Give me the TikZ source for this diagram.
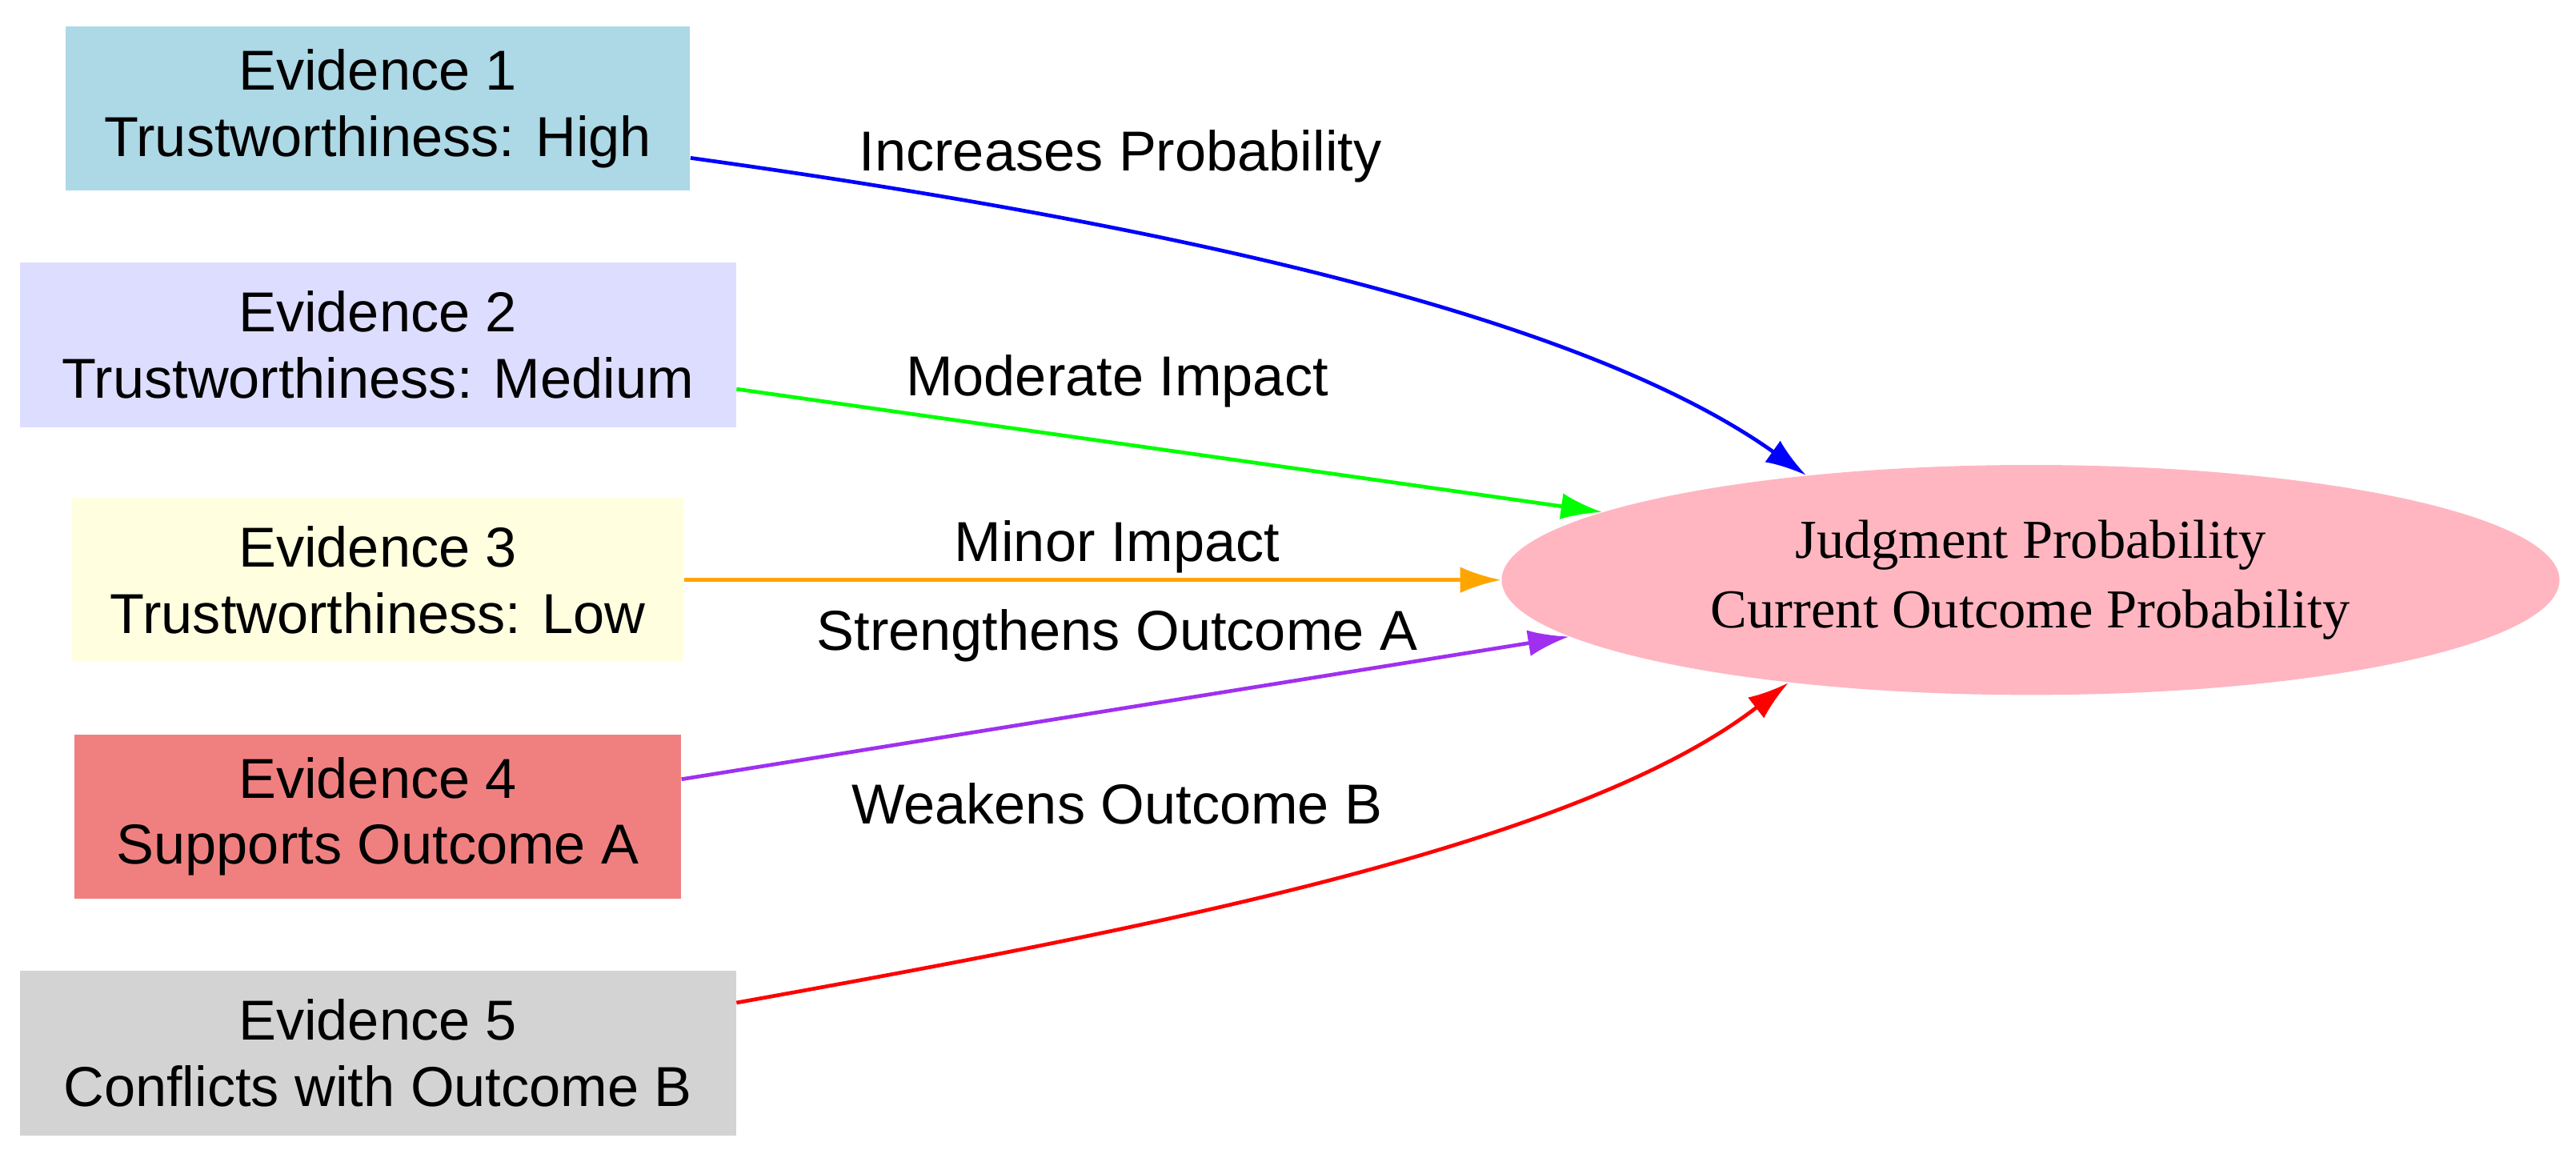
\documentclass[tikz,border=0pt]{standalone}
\usepackage{fontspec}
\setmainfont{Liberation Sans}
\newfontfamily\serifjf{Liberation Serif}
\usetikzlibrary{shapes.geometric,arrows.meta}
\definecolor{cE1}{HTML}{ADD8E6}
\definecolor{cE2}{HTML}{DDDDFF}
\definecolor{cE3}{HTML}{FFFFE0}
\definecolor{cE4}{HTML}{F08080}
\definecolor{cE5}{HTML}{D3D3D3}
\definecolor{cJ}{HTML}{FFB6C1}
\definecolor{cO}{HTML}{FFA500}
\definecolor{cP}{HTML}{A030F0}
\tikzset{
 ev/.style={rectangle,inner sep=0pt,align=center,font=\fontsize{19.5}{23}\selectfont,minimum height=2cm},
 conn/.style={line width=1.3pt,-{Latex[length=0.5cm,width=0.32cm]}},
 lab/.style={font=\fontsize{19.5}{23}\selectfont}
}
\begin{document}
\begin{tikzpicture}[x=0.02cm,y=-0.02cm]
\useasboundingbox (0,0) rectangle (1568,704.4);
\node[ev,fill=cE1,minimum width=7.6cm] (e1) at (230,66) {Evidence 1\\Trustworthiness: High};
\node[ev,fill=cE2,minimum width=8.72cm] (e2) at (230,210) {Evidence 2\\Trustworthiness: Medium};
\node[ev,fill=cE3,minimum width=7.44cm] (e3) at (230,353) {Evidence 3\\Trustworthiness: Low};
\node[ev,fill=cE4,minimum width=7.38cm] (e4) at (230,497) {Evidence 4\\Supports Outcome A};
\node[ev,fill=cE5,minimum width=8.72cm] (e5) at (230,641) {Evidence 5\\Conflicts with Outcome B};
\node[ellipse,fill=cJ,minimum width=12.88cm,minimum height=2.8cm,inner sep=0pt,align=center,font=\serifjf\fontsize{19}{24}\selectfont] (j) at (1236,353) {Judgment Probability\\Current Outcome Probability};
\draw[conn,blue] (e1.-9.3) .. controls (700,135) and (960,190) .. (j.155.6);
\draw[conn,green] (e2.-7.8) -- (j.171.5);
\draw[conn,cO] (e3.east) -- (j.west);
\draw[conn,cP] (e4.7.8) -- (j.187.8);
\draw[conn,red] (e5.8.9) .. controls (700,565) and (960,515) .. (j.203.6);
\node[lab] (l1) at (682,95) {Increases Probability};
\node[lab] (l2) at (680,232) {Moderate Impact};
\node[lab] (l3) at (680,333) {Minor Impact};
\node[lab] (l4) at (680,387) {Strengthens Outcome A};
\node[lab] (l5) at (680,489) {Weakens Outcome B};
\end{tikzpicture}
\end{document}
